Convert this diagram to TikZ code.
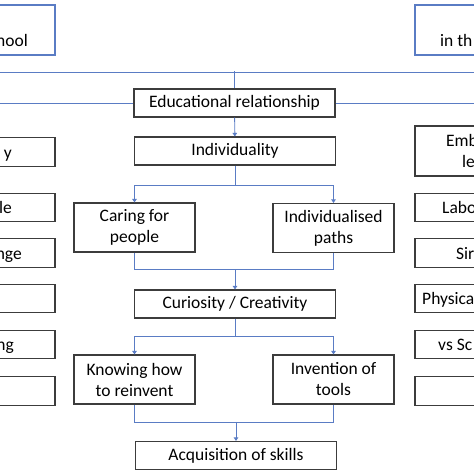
\documentclass[tikz,border=0pt]{standalone}
\usepackage{fontspec}
\setmainfont{Carlito}
\usetikzlibrary{arrows.meta, positioning}
\definecolor{linkblue}{RGB}{90,124,196}
\definecolor{boxgray}{RGB}{60,60,60}
\newcommand{\boxfont}{\fontsize{17.5}{21}\selectfont}
\tikzset{
  box/.style = {draw=boxgray, line width=1.1pt, inner sep=0pt, align=center, font=\boxfont},
  widebox/.style = {box, minimum width=201pt, minimum height=28pt},
  pairbox/.style = {box, minimum width=121pt, minimum height=49pt},
  sidebox/.style = {box, minimum width=130pt, minimum height=28.5pt},
  topbox/.style = {box, draw=linkblue, minimum width=135pt, minimum height=50pt},
  frag/.style = {inner sep=0pt, font=\boxfont},
  link/.style = {draw=linkblue, line width=0.9pt},
  linkarrow/.style = {link, -{Triangle[width=4.5pt, length=3.5pt]}}
}
\begin{document}
\begin{tikzpicture}[x=1pt, y=-1pt]
    \useasboundingbox (0,0) rectangle (474,474);
    \clip (0,0) rectangle (474,474);
    % top row
    \node[topbox] (school) at (-12.5,30) {};
    \node[topbox] (world) at (482.5,30) {};
    \node[frag, anchor=base east] (schooltxt) at (28,46) {hool};
    \node[frag, anchor=base west] (worldtxt) at (440,46) {in th};
    % centre column
    \node[widebox] (edu) at (234.5,103) {Educational relationship};
    \node[widebox] (ind) at (235,151) {Individuality};
    \node[pairbox] (care) at (134.5,227.5) {Caring for\\people};
    \node[pairbox] (path) at (333.5,228) {Individualised\\paths};
    \node[widebox] (cur) at (235,304) {Curiosity / Creativity};
    \node[pairbox] (know) at (134.5,379.5) {Knowing how\\to reinvent};
    \node[pairbox] (tool) at (333.5,379.5) {Invention of\\tools};
    \node[widebox] (skill) at (236,455.5) {Acquisition of skills};
    % side columns
    \node[sidebox] (L0) at (-10,152) {};
    \foreach \y [count=\i] in {207.5, 253, 298.5, 344.5, 391}{
        \node[sidebox] (L\i) at (-10,\y) {};
        \node[sidebox] (R\i) at (480,\y) {};
    }
    \node[sidebox, minimum height=50pt] (R0) at (480,151) {};
    \node[frag, anchor=base east] (L0txt) at (12,158) {y};
    \node[frag, anchor=base east] (L1txt) at (12,213.5) {le};
    \node[frag, anchor=base east] (L2txt) at (22,259) {nge};
    \node[frag, anchor=base east] (L4txt) at (14,350.5) {ng};
    \node[frag, anchor=base west] (R0txt) at (446,146) {Emb};
    \node[frag, anchor=base west] (R0txtb) at (462,167) {le};
    \node[frag, anchor=base west] (R1txt) at (442,213.5) {Labo};
    \node[frag, anchor=base west] (R2txt) at (456,259) {Sir};
    \node[frag, anchor=base west] (R3txt) at (422,304.5) {Physica};
    \node[frag, anchor=base west] (R4txt) at (438,350.5) {vs Sc};
    % connectors
    \coordinate (barL) at (0,72);
    \coordinate (barR) at (474,72);
    \coordinate (eduL) at (0,103);
    \coordinate (eduR) at (474,103);
    \coordinate[above=17pt of edu] (top);
    \coordinate[below=20pt of ind] (b1);
    \coordinate[above=20pt of cur] (m1);
    \coordinate[below=18pt of cur] (b2);
    \coordinate[above=19pt of skill] (m2);
    \draw[link] (barL) -- (barR);
    \draw[link] (top) -- (edu);
    \draw[link] (eduL) -- (edu);
    \draw[link] (edu) -- (eduR);
    \draw[linkarrow] (edu) -- (ind);
    \draw[link] (ind) -- (b1);
    \draw[linkarrow] (b1) -| (care.north);
    \draw[linkarrow] (b1) -| (path.north);
    \draw[link] (care.south) |- (m1) -| (path.south);
    \draw[linkarrow] (m1) -- (cur);
    \draw[link] (cur) -- (b2);
    \draw[linkarrow] (b2) -| (know.north);
    \draw[linkarrow] (b2) -| (tool.north);
    \draw[link] (know.south) |- (m2) -| (tool.south);
    \draw[linkarrow] (m2) -- (skill);
\end{tikzpicture}
\end{document}
